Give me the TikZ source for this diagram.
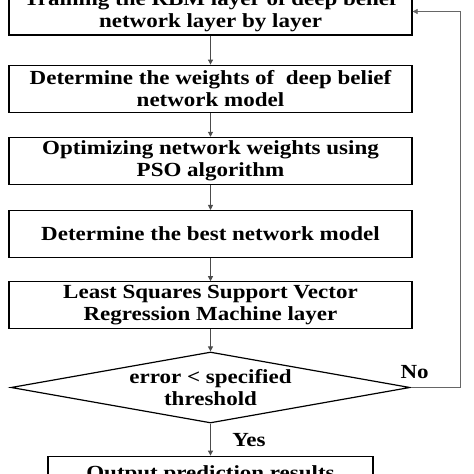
\documentclass[tikz,border=0pt]{standalone}
\usepackage{fontspec}
\setmainfont{Liberation Serif}[FakeStretch=1.15]
\usetikzlibrary{positioning,shapes.geometric,arrows.meta}

\begin{document}
\begin{tikzpicture}[
  x=1pt, y=1pt,
  node distance=24pt,
  font=\bfseries\fontsize{20}{22}\selectfont,
  stepbox/.style={draw, line width=1.2pt, minimum width=403pt, minimum height=47pt, align=center, inner sep=0pt},
  decision/.style={draw, line width=1.2pt, diamond, aspect=5.6, minimum width=399pt, minimum height=71pt, inner sep=0pt, align=center},
  flow/.style={draw=black!70, line width=0.9pt, -{Triangle[length=5pt,width=5pt]}}
]
  \useasboundingbox (0,0) rectangle (474,474);

  \node (train) [stepbox] at (210.5,462.5) {Training the RBM layer of deep belief\\network layer by layer};
  \node (weights) [stepbox, below=29pt of train] {Determine the weights of ~deep belief\\network model};
  \node (pso) [stepbox, below=of weights] {Optimizing network weights using\\PSO algorithm};
  \node (best) [stepbox, below=25pt of pso] {Determine the best network model};
  \node (lssvr) [stepbox, below=23pt of best] {Least Squares Support Vector\\Regression Machine layer};
  \node (check) [decision, below=22pt of lssvr] {error < specified\\threshold};
  \node (output) [stepbox, minimum width=325pt, minimum height=36pt, below=32pt of check] {Output prediction results};

  \draw [flow] (train) -- (weights);
  \draw [flow] (weights) -- (pso);
  \draw [flow] (pso) -- (best);
  \draw [flow] (best) -- (lssvr);
  \draw [flow] (lssvr) -- (check);
  \draw [flow] (check) -- node [right, xshift=18pt] {Yes} (output);

  % back to the first layer
  \draw [flow, draw=black!60, line width=0.6pt] (check.east) -- ++(50,0) |- (train.east);
  \node (no) at ([xshift=4pt,yshift=15pt]check.east) {No};
\end{tikzpicture}
\end{document}
